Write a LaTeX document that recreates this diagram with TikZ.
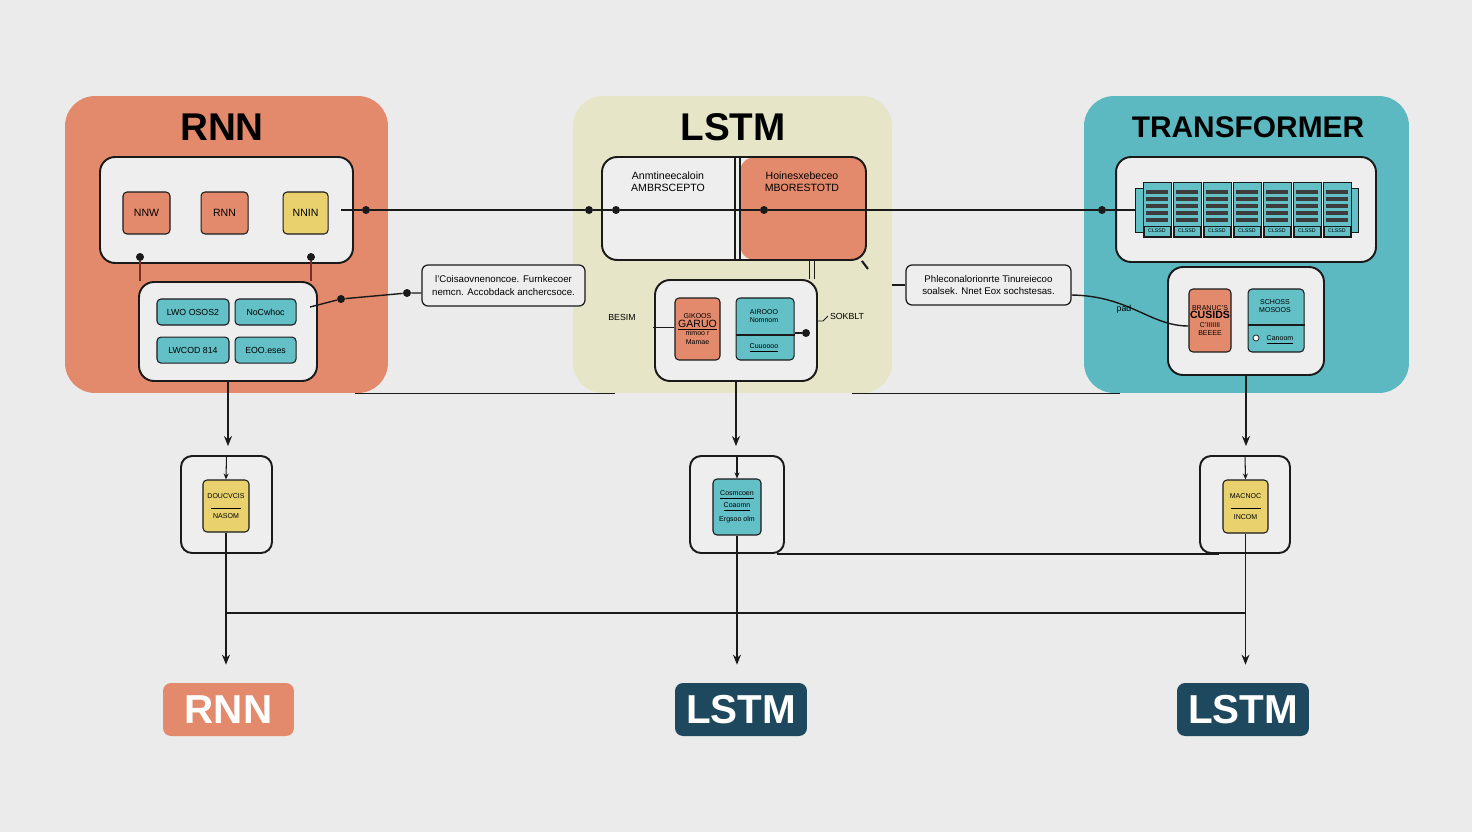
\documentclass[tikz,border=0pt]{standalone}
\usepackage{fontspec}
\setmainfont{Liberation Sans}
\usetikzlibrary{arrows.meta,positioning}

\definecolor{paper}{HTML}{EBEBEB}
\definecolor{card}{HTML}{EEEEEE}
\definecolor{ink}{HTML}{1A1A1A}
\definecolor{rnnred}{HTML}{E48A6C}
\definecolor{lstmolive}{HTML}{E6E5C7}
\definecolor{trteal}{HTML}{5CB9C1}
\definecolor{cellteal}{HTML}{62C0C6}
\definecolor{cellyellow}{HTML}{E9D26E}
\definecolor{navy}{HTML}{1E485E}
\definecolor{rust}{HTML}{7A2E22}

\begin{document}
\begin{tikzpicture}[
    x=0.02cm, y=-0.02cm,
    >={Stealth[length=0.2cm,width=0.16cm]},
    panel/.style={rounded corners=0.6cm, minimum width=6.46cm, minimum height=5.94cm, inner sep=0},
    title/.style={font=\fontsize{22}{24}\selectfont\bfseries},
    inner/.style={draw=ink, line width=1.1pt, fill=card, rounded corners=0.3cm, inner sep=0},
    lowbox/.style={inner, rounded corners=0.22cm, minimum height=1.94cm},
    cell/.style={draw=ink, line width=0.6pt, rounded corners=0.08cm, inner sep=0,
      align=center, font=\fontsize{4}{4.8}\selectfont},
    dot/.style={circle, fill=ink, inner sep=0, minimum size=0.16cm},
    callout/.style={draw=ink, line width=0.7pt, fill=card, rounded corners=0.12cm,
      minimum width=3.26cm, minimum height=0.82cm, align=center, font=\fontsize{5.5}{7}\selectfont},
    note/.style={font=\fontsize{5}{6}\selectfont, inner sep=1pt, align=center},
    wire/.style={line width=0.8pt, draw=ink},
    arw/.style={->, wire},
    tiny arw/.style={-{Stealth[length=0.12cm,width=0.1cm]}, wire, line width=0.6pt},
    tag/.style={rounded corners=0.16cm, minimum width=2.62cm, minimum height=1.06cm,
      text=white, font=\fontsize{23}{24}\selectfont\bfseries},
  ]
    \useasboundingbox (0,0) rectangle (1472,832);
    \fill[paper] (0,0) rectangle (1472,832);

    % Panels
    \node[panel, fill=rnnred] (rnn) at (226.5,244.5) {};
    \node[panel, fill=lstmolive, minimum width=6.38cm] (lstm) at (732.5,244.5) {};
    \node[panel, fill=trteal, minimum width=6.5cm] (tr) at (1246.5,244.5) {};

    \node[title] (rnnT) at (222,127) {RNN};
    \node[title] (lstmT) at (733,127) {LSTM};
    \node[title, font=\fontsize{17}{19}\selectfont\bfseries] (trT) at (1248,127) {TRANSFORMER};

    % Bottom edges of the panels
    \draw[wire] ([xshift=-0.66cm]rnn.south east) -- ([xshift=0.84cm]lstm.south west);
    \draw[wire] ([xshift=-0.8cm]lstm.south east) -- ([xshift=0.72cm]tr.south west);

    % RNN panel
    \node[inner, minimum width=5.06cm, minimum height=2.12cm] (rnnA) at (226.5,210) {};
    \node[cell, fill=rnnred, minimum width=0.94cm, minimum height=0.84cm,
      font=\fontsize{6}{7}\selectfont] (rnn1) at (146.5,213) {NNW};
    \node[cell, fill=rnnred, minimum width=0.94cm, minimum height=0.84cm,
      font=\fontsize{6}{7}\selectfont, right=0.6cm of rnn1] (rnn2) {RNN};
    \node[cell, fill=cellyellow, minimum width=0.9cm, minimum height=0.84cm,
      font=\fontsize{6}{7}\selectfont, right=0.68cm of rnn2] (rnn3) {NNIN};

    \node[inner, minimum width=3.56cm, minimum height=1.98cm] (rnnB) at (228,331.5) {};
    \node[cell, fill=cellteal, minimum width=1.44cm, minimum height=0.52cm,
      font=\fontsize{5}{6}\selectfont] (rnnc1) at (193,312) {LWO OSOS2};
    \node[cell, fill=cellteal, minimum width=1.22cm, minimum height=0.52cm,
      font=\fontsize{5}{6}\selectfont, right=0.1cm of rnnc1] (rnnc2) {NoCwhoc};
    \node[cell, fill=cellteal, minimum width=1.44cm, minimum height=0.52cm,
      font=\fontsize{5}{6}\selectfont, below=0.22cm of rnnc1] (rnnc3) {LWCOD 814};
    \node[cell, fill=cellteal, minimum width=1.22cm, minimum height=0.52cm,
      font=\fontsize{5}{6}\selectfont, below=0.22cm of rnnc2] (rnnc4) {EOO.eses};

    \node[dot] (d1) at (140,257) {};
    \node[dot] (d2) at (311,257) {};
    \draw[wire, draw=rust] (d1) -- (d1 |- rnnB.north);
    \draw[wire, draw=rust] (d2) -- (d2 |- rnnB.north);

    % Callout between RNN and LSTM
    \node[callout] (note1) at (503.5,285.5)
      {l'Coisaovnenoncoe. Furnkecoer\\nemcn. Accobdack anchercsoce.};
    \coordinate (rnnBout) at (310,307);
    \node[dot] (d8) at (341,299) {};
    \node[dot] (d9) at (407,293) {};
    \draw[wire] (rnnBout) -- (d8) -- (d9) -- (note1.west |- d9);

    % LSTM panel
    \node[inner, minimum width=5.28cm, minimum height=2.06cm,
      path picture={
        \fill[rnnred] ([xshift=0.12cm]path picture bounding box.north)
          rectangle (path picture bounding box.south east);
        \draw[ink, line width=0.8pt] ([xshift=0.02cm]path picture bounding box.north)
          -- ([xshift=0.02cm]path picture bounding box.south);
        \draw[ink, line width=0.8pt] ([xshift=0.12cm]path picture bounding box.north)
          -- ([xshift=0.12cm]path picture bounding box.south);
      }] (lstmA) at (734,208.5) {};
    \node[note, font=\fontsize{6}{7}\selectfont] (lstmAl) at (668,181.5) {Anmtineecaloin\\AMBRSCEPTO};
    \node[note, font=\fontsize{6}{7}\selectfont] (lstmAr) at (802,181.5) {Hoinesxebeceo\\MBORESTOTD};
    \draw[wire, line width=1.2pt] ([xshift=-0.1cm]lstmA.south east) -- ++(6,8);

    % TRANSFORMER panel, top box
    \node[inner, minimum width=5.2cm, minimum height=2.1cm] (trA) at (1246,209.5) {};
    \draw[fill=cellteal, draw=ink, line width=0.5pt] (1135,188) rectangle (1143,232);
    \draw[fill=cellteal, draw=ink, line width=0.5pt] (1351,188) rectangle (1358,232);
    \foreach \i in {0,...,6} {
      \pgfmathsetmacro\cx{1143+30*\i}
      \draw[fill=cellteal, draw=ink, line width=0.5pt] (\cx,182) rectangle ++(28,55);
      \foreach \r in {0,...,4}
        \fill[ink!85] (\cx+3,190+7*\r) rectangle ++(22,3.5);
      \draw[draw=ink, line width=0.4pt] (\cx+1,226) rectangle ++(26,10);
      \node[font=\fontsize{3}{3}\selectfont, inner sep=0] at (\cx+14,231) {CLSSD};
    }

    % Long line across the top row
    \coordinate (busA) at (341,210);
    \node[dot] (d3) at (366,210) {};
    \node[dot] (d4) at (589,210) {};
    \node[dot] (d5) at (616,210) {};
    \node[dot] (d6) at (764,210) {};
    \node[dot] (d7) at (1102,210) {};
    \coordinate (stackL) at (1135,210);
    \draw[wire] (busA) -- (d3) -- (d4) -- (d5) -- (d6) -- (d7) -- (stackL);

    \node[inner, minimum width=3.24cm, minimum height=2.02cm] (lstmB) at (736,330.5) {};
    \coordinate (lstmJ) at (812,260);
    \draw[wire, line width=0.6pt] ([xshift=-0.05cm]lstmJ) -- ([xshift=-0.05cm]lstmJ |- lstmB.north);
    \draw[wire, line width=0.6pt] ([xshift=0.05cm]lstmJ) -- ([xshift=0.05cm]lstmJ |- lstmB.north);

    \node[cell, fill=rnnred, minimum width=0.9cm, minimum height=1.24cm] (lstmC1) at (697.5,329)
      {GIKOOS\\\underline{\fontsize{6}{6}\selectfont GARUO}\\mmoo r\\Mamae};
    \node[cell, fill=cellteal, minimum width=1.16cm, minimum height=1.24cm, right=0.3cm of lstmC1] (lstmC2) {};
    \draw[wire, line width=0.6pt] ([yshift=-0.12cm]lstmC2.west) -- ([yshift=-0.12cm]lstmC2.east);
    \node[note, font=\fontsize{4}{5}\selectfont] (lstmC2t) at (764,316) {AIROOO\\Nomnom};
    \node[note, font=\fontsize{4}{5}\selectfont] (lstmC2b) at (764,348) {\underline{Cuuoooo}};
    \node[dot] (d10) at (806,333) {};
    \draw[wire] (d10) -- (d10 -| lstmC2.east);

    \node[note] (besim) at (622,317) {BESIM};
    \coordinate (besimL) at (653,327);
    \draw[wire, line width=0.5pt] (besimL) -- (besimL -| lstmC1.west);
    \node[note] (sokblt) at (847,316) {SOKBLT};
    \coordinate (sokbltL) at (818,321);
    \draw[wire, line width=0.5pt] (sokbltL) -- ++(5,0) -- (sokblt.west);

    % Callout between LSTM and TRANSFORMER
    \node[callout, minimum width=3.3cm, minimum height=0.8cm] (note2) at (988.5,285)
      {Phleconalorionrte Tinureiecoo\\soalsek. Nnet Eox sochstesas.};
    \draw[wire] (lstm.east |- note2.west) -- (note2.west);

    % TRANSFORMER panel, lower box
    \node[inner, minimum width=3.12cm, minimum height=2.16cm] (trB) at (1246,321) {};
    \node[cell, fill=rnnred, minimum width=0.84cm, minimum height=1.26cm] (trC1) at (1210,320.5)
      {BRANUC'S\\{\fontsize{6}{6}\selectfont\bfseries CUSIDS}\\C'IIIIIII\\BEEEE};
    \node[cell, fill=cellteal, minimum width=1.12cm, minimum height=1.26cm, right=0.32cm of trC1] (trC2) {};
    \draw[wire, line width=0.6pt] ([yshift=-0.09cm]trC2.west) -- ([yshift=-0.09cm]trC2.east);
    \node[note, font=\fontsize{4}{5}\selectfont] (trC2t) at (1275,306) {SCHOSS\\MOSOOS};
    \node[note, font=\fontsize{4}{5}\selectfont] (trC2b) at (1280,340) {\underline{Canoom}};
    \node[circle, draw=ink, fill=white, inner sep=0, minimum size=0.12cm] (trO) at (1256,338) {};

    \draw[wire] (note2.east |- 0,295) .. controls (1130,296) and (1150,326) .. (trC1.west |- 0,326);
    \node[note] (pad) at (1124,309) {pad};

    % Lower row
    \node[lowbox, minimum width=1.82cm] (rnnL) at (226.5,504.5) {};
    \node[cell, fill=cellyellow, minimum width=0.92cm, minimum height=1.04cm] (rnnLc) at (226,506)
      {DOUCVCIS\\[1pt]\rule{0.6cm}{0.3pt}\\[1pt]NASOM};
    \node[lowbox, minimum width=1.88cm] (lstmL) at (737,504.5) {};
    \node[cell, fill=cellteal, minimum width=0.96cm, minimum height=1.12cm] (lstmLc) at (737,507)
      {\underline{Cosmcoen}\\[1pt]\underline{Coaomn}\\[2pt]Ergsoo olm};
    \node[lowbox, minimum width=1.8cm] (trL) at (1245,504.5) {};
    \node[cell, fill=cellyellow, minimum width=0.9cm, minimum height=1.06cm] (trLc) at (1245.5,506.5)
      {MACNOC\\[1pt]\rule{0.6cm}{0.3pt}\\[1pt]INCOM};

    \draw[arw, shorten >=0.18cm] (rnnB.south) -- (rnnB.south |- rnnL.north);
    \draw[arw, shorten >=0.18cm] (lstmB.south) -- (lstmB.south |- lstmL.north);
    \draw[arw, shorten >=0.18cm] (trB.south) -- (trB.south |- trL.north);
    \draw[tiny arw] (rnnL.north) -- (rnnLc.north);
    \draw[tiny arw] (lstmL.north) -- (lstmLc.north);
    \draw[tiny arw] (trL.north) -- (trLc.north);

    \draw[wire] ([xshift=-0.16cm]lstmL.south east) -- ([xshift=0.4cm]trL.south west);

    % Outputs
    \node[tag, fill=rnnred] (rnnOut) at (228.5,709.5) {RNN};
    \node[tag, fill=navy, minimum width=2.64cm] (lstmOut) at (741,709.5) {LSTM};
    \node[tag, fill=navy, minimum width=2.64cm] (trOut) at (1243,709.5) {LSTM};

    \coordinate (bus) at (0,613);
    \draw[wire] (rnnLc.south |- bus) -- (trLc.south |- bus);
    \draw[arw, shorten >=0.36cm] (rnnLc.south) -- (rnnLc.south |- rnnOut.north);
    \draw[arw, shorten >=0.36cm] (lstmLc.south) -- (lstmLc.south |- lstmOut.north);
    \draw[arw, shorten >=0.36cm] (trLc.south) -- (trLc.south |- trOut.north);

  \end{tikzpicture}
\end{document}
